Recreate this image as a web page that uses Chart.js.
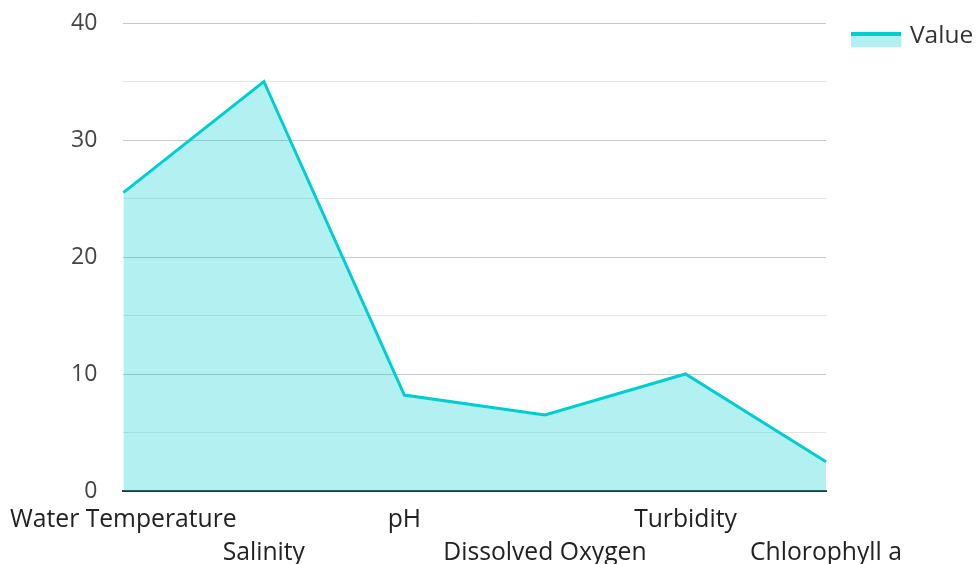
<!DOCTYPE html>
<html lang="en">
  <head>
    <meta charset="UTF-8" />
    <title>Water Quality Parameters</title>
    <script src="https://cdn.jsdelivr.net/npm/chart.js"></script>
    <style>
      body {
        margin: 0;
        background: #ffffff;
      }
      .chart-box {
        width: 976px;
        height: 564px;
      }
    </style>
  </head>
  <body>
    <div class="chart-box">
      <canvas id="chart"></canvas>
    </div>

    <script>
      // data
      const categories = [
        "Water Temperature",
        "Salinity",
        "pH",
        "Dissolved Oxygen",
        "Turbidity",
        "Chlorophyll a",
      ];
      const values = [25.5, 35, 8.2, 6.5, 10, 2.5];
      const seriesName = "Value";

      const lineColor = "#00ced1";
      const fillColor = "rgba(0, 206, 209, 0.3)";
      const fontFamily = "'Open Sans', 'Noto Sans', sans-serif";

      // legend drawn by hand: short line on top of a light fill swatch
      const sideLegend = {
        id: "sideLegend",
        afterDraw(chart) {
          const { ctx, chartArea } = chart;
          const x = chartArea.right + 25;
          const y = chartArea.top + 9;
          ctx.save();
          ctx.fillStyle = fillColor;
          ctx.fillRect(x, y, 50, 15);
          ctx.fillStyle = lineColor;
          ctx.fillRect(x, y, 50, 4);
          ctx.fillStyle = "#333";
          ctx.font = "24.5px " + fontFamily;
          ctx.textBaseline = "middle";
          ctx.fillText(chart.data.datasets[0].label, x + 59, y + 4);
          ctx.restore();
        },
      };

      Chart.defaults.font.family = fontFamily;
      Chart.defaults.font.size = 24;
      Chart.defaults.color = "#333";

      new Chart(document.getElementById("chart"), {
        type: "line",
        data: {
          labels: categories,
          datasets: [
            {
              label: seriesName,
              data: values,
              borderColor: lineColor,
              backgroundColor: fillColor,
              borderWidth: 3,
              fill: true,
              tension: 0,
              pointRadius: 0,
              pointHoverRadius: 0,
            },
          ],
        },
        plugins: [sideLegend],
        options: {
          responsive: true,
          maintainAspectRatio: false,
          animation: false,
          layout: {
            padding: { top: 23, left: 71, right: 150, bottom: -5 },
          },
          plugins: {
            tooltip: { enabled: false },
            legend: { display: false },
          },
          scales: {
            x: {
              offset: false,
              // invisible tick marks give the gap under the axis line
              grid: {
                display: true,
                drawOnChartArea: false,
                drawTicks: true,
                tickLength: 12,
                tickColor: "rgba(0,0,0,0)",
              },
              border: { display: true, color: "#333", width: 2 },
              ticks: {
                autoSkip: false,
                maxRotation: 0,
                minRotation: 0,
                padding: 0,
                color: "#222",
                font: { size: 24.7, lineHeight: "33px" },
                callback: function (value, index) {
                  const label = this.getLabelForValue(value);
                  return index % 2 === 0 ? label : ["", label];
                },
              },
            },
            y: {
              min: 0,
              max: 40,
              border: { display: false },
              grid: {
                drawTicks: true,
                tickLength: 26,
                tickColor: "rgba(0,0,0,0)",
                color: (ctx) =>
                  ctx.tick && ctx.tick.value % 10 === 0 ? "#c8c8c8" : "#e6e6e6",
                lineWidth: 1,
              },
              ticks: {
                stepSize: 5,
                padding: 0,
                color: "#444",
                font: { size: 23 },
                callback: (value) => (value % 10 === 0 ? value : ""),
              },
            },
          },
        },
      });
    </script>
  </body>
</html>
